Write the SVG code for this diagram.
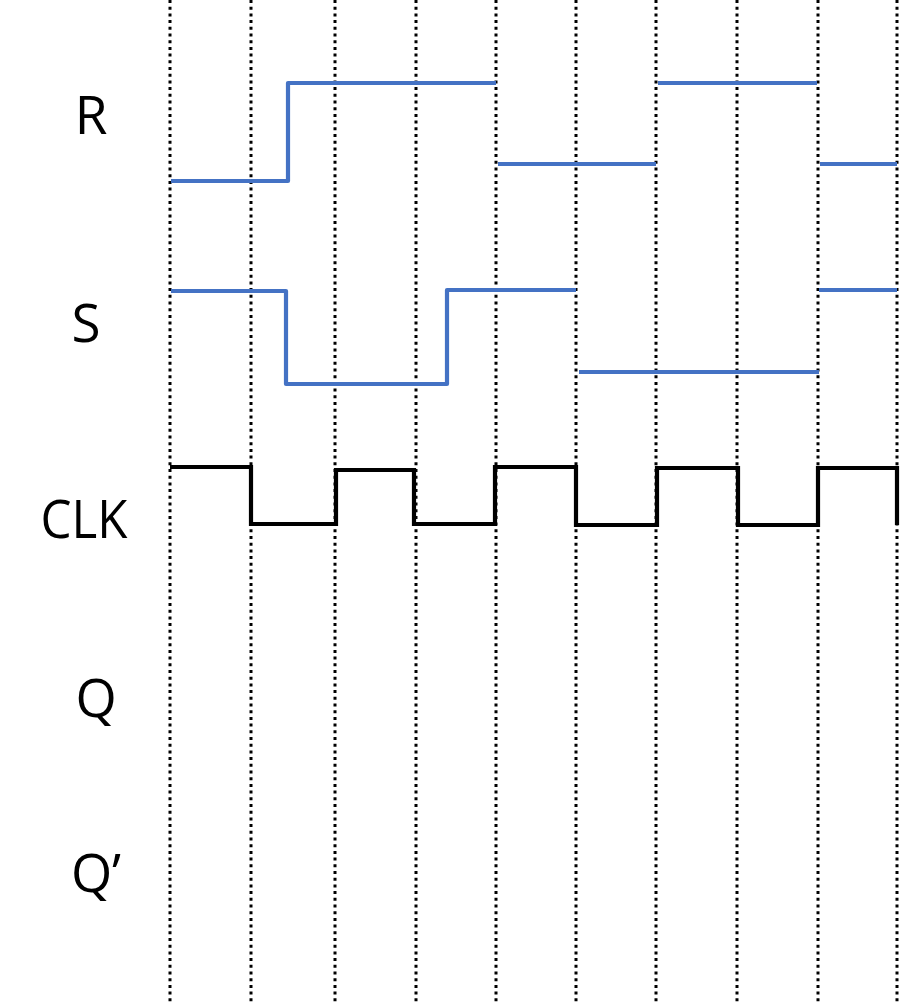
<svg xmlns="http://www.w3.org/2000/svg" width="904" height="1004" viewBox="0 0 904 1004">
<style>
.grid{stroke:#000;stroke-width:3;stroke-dasharray:3 3.7;fill:none}
.sig{stroke:#4472C4;stroke-width:4.2;fill:none;stroke-linejoin:round}
.clk{stroke:#000;stroke-width:4.2;fill:none;stroke-linejoin:miter}
.lbl{font-family:"Open Sans","Liberation Sans",sans-serif;font-size:53px;fill:#000;text-anchor:middle}
</style>
<rect width="904" height="1004" fill="#fff"/>
<g id="grid" class="grid">
<line x1="170" y1="0" x2="170" y2="1004"/>
<line x1="251" y1="0" x2="251" y2="1004"/>
<line x1="335" y1="0" x2="335" y2="1004"/>
<line x1="416" y1="0" x2="416" y2="1004"/>
<line x1="496" y1="0" x2="496" y2="1004"/>
<line x1="576" y1="0" x2="576" y2="1004"/>
<line x1="656" y1="0" x2="656" y2="1004"/>
<line x1="737" y1="0" x2="737" y2="1004"/>
<line x1="818" y1="0" x2="818" y2="1004"/>
<line x1="897" y1="0" x2="897" y2="1004"/>
</g>
<g id="labels">
<text id="label-R" class="lbl" x="91" y="134">R</text>
<text id="label-S" class="lbl" x="86" y="342">S</text>
<text id="label-CLK" class="lbl" x="84" y="538" textLength="87" lengthAdjust="spacingAndGlyphs">CLK</text>
<text id="label-Q" class="lbl" x="96" y="717">Q</text>
<text id="label-Qp" class="lbl" x="96" y="892">Q’</text>
</g>
<g id="connectors">
<g id="wave-R" class="sig">
<path d="M171,181 H288 V83 H496"/>
<path d="M498,164 H656"/>
<path d="M658,83 H817"/>
<path d="M820,164 H897"/>
</g>
<g id="wave-S" class="sig">
<path d="M171,291 H286 V384 H447 V290 H576"/>
<path d="M579,372 H740"/>
<path d="M740,372 H819"/>
<path d="M819,290 H897"/>
</g>
<g id="wave-CLK" class="clk">
<path d="M170,467 H251 V524 H336 V470 H414 V524 H495 V467 H576 V525 H657 V468 H738 V525 H818 V468 H897 V525"/>
</g>
</g>
</svg>
